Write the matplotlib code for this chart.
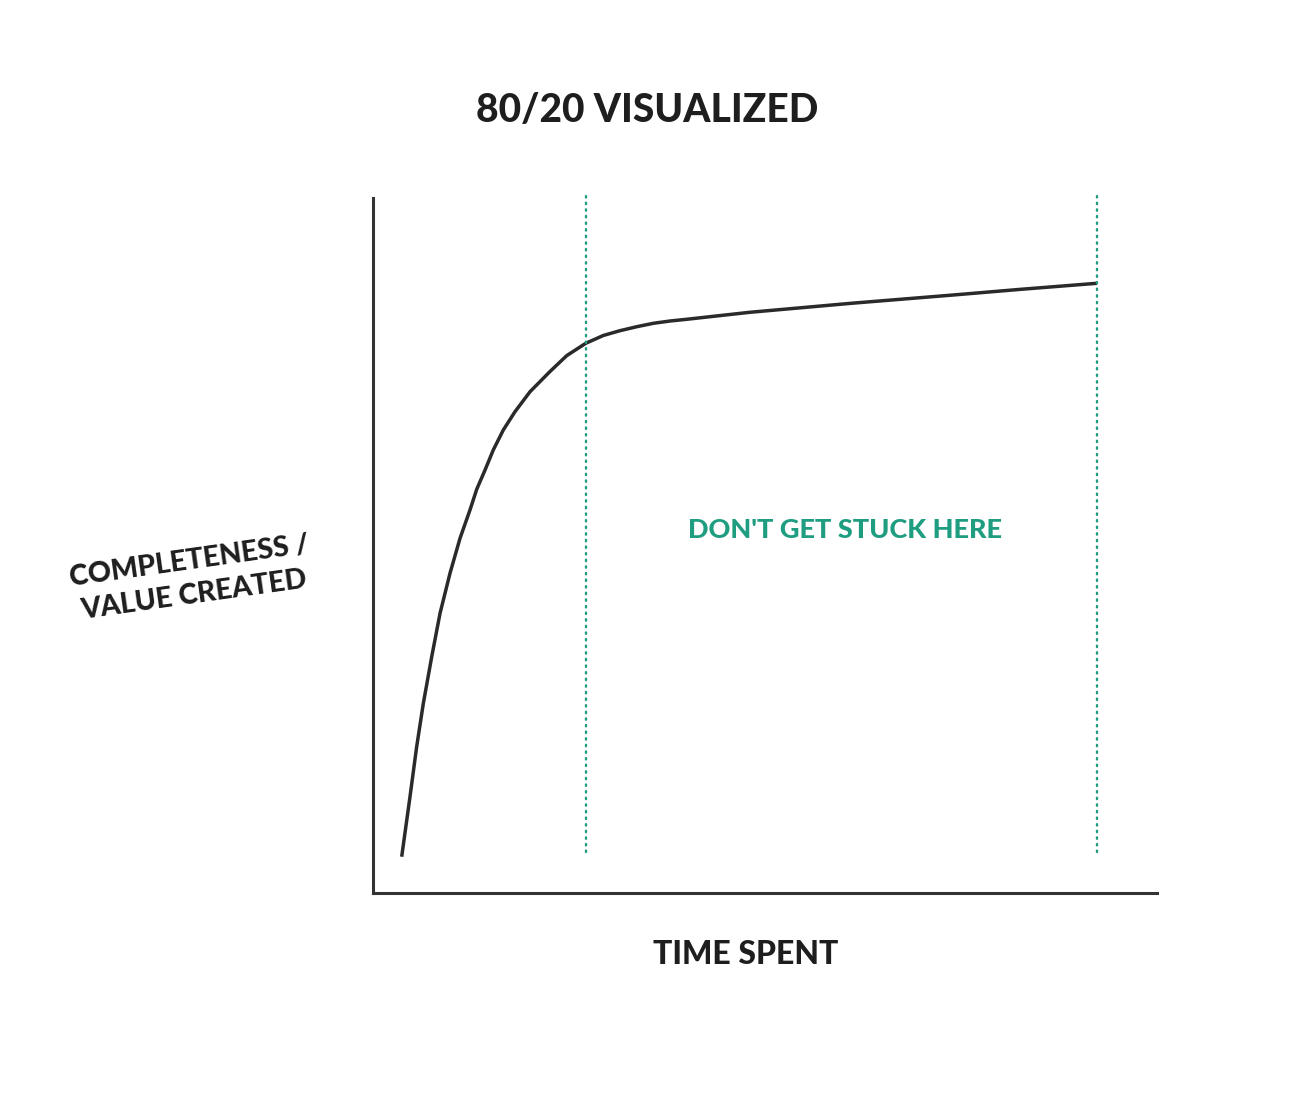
import matplotlib
matplotlib.use("Agg")
import matplotlib.pyplot as plt

# values (time spent %, completeness %)
time_spent = [3.66, 4.72, 5.57, 6.42, 7.49, 8.55, 9.82, 11.10, 12.37, 13.23,
              14.29, 15.34, 16.62, 18.11, 20.03, 22.58, 24.71, 27.13, 29.38,
              31.51, 33.64, 35.75, 37.88, 40.02, 48.02, 60.99, 73.97, 82.61, 92.35]
completeness = [5.22, 13.86, 21.05, 27.29, 34.0, 40.24, 46.0, 51.04, 55.11, 58.09,
                60.86, 63.74, 66.62, 69.25, 72.13, 75.04, 77.32, 79.09, 80.22,
                80.91, 81.48, 81.97, 82.30, 82.55, 83.55, 84.85, 86.04, 86.86, 87.73]
markers_x = [27.17, 92.35]
marker_span = [5.9, 100.6]

title = "80/20 Visualized"
xlabel = "Time Spent"
ylabel = "Completeness /\nValue Created"
note = "Don't get stuck here"

INK = "#2a2a2a"
TEAL = "#1f9d80"
FONT = ["Lato", "DejaVu Sans"]

fig = plt.figure(figsize=(13, 11), dpi=100)
ax = fig.add_axes([373 / 1300, 207 / 1100, 784 / 1300, 695 / 1100])

ax.plot(time_spent, completeness, color=INK, lw=2.5,
        solid_capstyle="butt", solid_joinstyle="round")

for mx in markers_x:
    ax.plot([mx, mx], marker_span, color=TEAL, lw=1.7,
            linestyle=(0, (0.6, 2.2)), dash_capstyle="round", clip_on=False)

ax.set_xlim(0, 100)
ax.set_ylim(0, 100)
for side in ["top", "right"]:
    ax.spines[side].set_visible(False)
for side in ["left", "bottom"]:
    ax.spines[side].set_linewidth(2.2)
    ax.spines[side].set_color("#333333")
ax.set_xticks([])
ax.set_yticks([])

ax.text(60.2, 52.2, note.upper(), color=TEAL, fontsize=19.5, fontweight="black",
        family=FONT, ha="center", va="center", transform=ax.transData)

fig.text(647 / 1300, 1 - 111 / 1100, title.upper(), fontsize=28, fontweight="black",
         family=FONT, color="#1e1e1e", ha="center", va="center")
fig.text(746 / 1300, 1 - 955 / 1100, xlabel.upper(), fontsize=23, fontweight="black",
         family=FONT, color="#1e1e1e", ha="center", va="center")
fig.text(192 / 1300, 1 - 578 / 1100, ylabel.upper(), fontsize=20.5, fontweight="black",
         family=FONT, color="#1e1e1e", ha="center", va="center", rotation=8,
         linespacing=1.4, rotation_mode="anchor")

fig.savefig("out.png", dpi=100, facecolor="white")
